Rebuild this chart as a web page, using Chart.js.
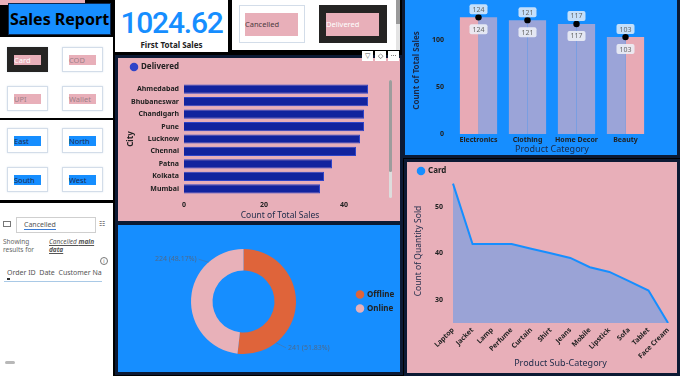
<!DOCTYPE html>
<html>
<head>
<meta charset="utf-8">
<script src="https://cdn.jsdelivr.net/npm/chart.js@4.4.1/dist/chart.umd.min.js"></script>
<style>
  html, body { margin: 0; padding: 0; background: #000; width: 680px; height: 376px; overflow: hidden; font-family: 'Noto Sans', 'Open Sans', sans-serif; }
  .box { position: absolute; box-sizing: border-box; }
  .white { background: #fff; }
  .pink { background: #e8afb9; }
  .blue { background: #168eff; }
  .panel { border: 3px solid #0c1a34; }
  .btn { position: absolute; box-sizing: border-box; width: 41px; height: 25px; background: #fff; border: 1px solid #d3dde9; box-shadow: 0 0 2px #dde6f0; }
  .btn.on { background: #252423; border-color: #252423; }
  .btn span { position: absolute; left: 6px; top: 7px; width: 27px; height: 10px; font-size: 7.5px; line-height: 10px; background: #e8afb9; color: #9c7f87; }
  .btn.on span { color: #fff; }
  .btn.reg span { background: #168eff; color: #1d2b4f; }
  .tiny { position: absolute; font-size: 6.5px; color: #666; line-height: 8px; }
  .ico { position: absolute; top: 51px; width: 11px; height: 10px; background: #fff; font-size: 7px; line-height: 10px; text-align: center; color: #555; }
  canvas { display: block; }
</style>
</head>
<body>

<!-- left column -->
<div class="box pink" style="left:0;top:0;width:85px;height:5px;"></div>
<div class="box blue" style="left:8px;top:3px;width:103px;height:32px;border:1px solid #0a2a55;font-weight:700;font-size:16px;line-height:30px;text-align:center;color:#000;">Sales Report</div>

<div class="box white" style="left:0;top:37px;width:113px;height:81px;"></div>
<div class="btn on" style="left:7px;top:47px;"><span>Card</span></div>
<div class="btn" style="left:62px;top:47px;"><span>COD</span></div>
<div class="btn" style="left:7px;top:86px;"><span>UPI</span></div>
<div class="btn" style="left:62px;top:86px;"><span>Wallet</span></div>

<div class="box white" style="left:0;top:120px;width:113px;height:80px;"></div>
<div class="btn reg" style="left:7px;top:128px;"><span>East</span></div>
<div class="btn reg" style="left:62px;top:128px;"><span>North</span></div>
<div class="btn reg" style="left:7px;top:167px;"><span>South</span></div>
<div class="btn reg" style="left:62px;top:167px;"><span>West</span></div>

<div class="box white" style="left:0;top:203px;width:113px;height:173px;"></div>
<div class="box" style="left:3px;top:221px;width:8px;height:6px;border:1px solid #777;"></div>
<div class="box" style="left:16px;top:217px;width:80px;height:16px;border:1px solid #cfcfcf;"></div>
<div class="tiny" style="left:24px;top:221px;font-size:7px;color:#555;border-bottom:1px solid #3a7bd5;line-height:8px;">Cancelled</div>
<div class="tiny" style="left:99px;top:220px;font-size:7px;color:#666;">&#x2637;</div>
<div class="tiny" style="left:3px;top:238px;">Showing<br>results for</div>
<div class="tiny" style="left:49px;top:238px;font-style:italic;text-decoration:underline;color:#555;">Cancelled <b>main</b><br><b>data</b></div>
<div class="box" style="left:100px;top:257px;width:8px;height:8px;border:1px solid #777;border-radius:50%;font-size:5px;line-height:6px;text-align:center;color:#555;">i</div>
<div class="tiny" style="left:7px;top:269px;font-size:7px;color:#555;">Order ID&nbsp; Date&nbsp; Customer Na</div>
<div class="box" style="left:4px;top:281px;width:98px;height:1px;background:#a9c9e6;"></div>
<div class="box" style="left:7px;top:278px;width:3px;height:2px;background:#333;"></div>
<div class="box" style="left:5px;top:361px;width:10px;height:3px;background:#b8b8b8;border-radius:2px;"></div>

<!-- KPI card -->
<div class="box white" style="left:115px;top:0;width:113px;height:52px;"></div>
<div class="box" style="left:115px;top:6px;width:113px;text-align:center;font-family:Roboto,sans-serif;font-weight:500;font-size:30px;letter-spacing:-1.2px;line-height:34px;color:#168eff;">1024.62</div>
<div class="box" style="left:115px;top:40px;width:113px;text-align:center;font-weight:700;font-size:8px;line-height:10px;color:#222;">First Total Sales</div>

<!-- status slicer -->
<div class="box white" style="left:232px;top:0;width:164px;height:50px;"></div>
<div class="box" style="left:239px;top:5px;width:66px;height:38px;border:1px solid #d3dde9;"></div>
<div class="box pink" style="left:245px;top:13px;width:53px;height:23px;font-size:7.5px;line-height:23px;color:#4d3a40;">Cancelled</div>
<div class="box" style="left:319px;top:5px;width:68px;height:38px;background:#252423;"></div>
<div class="box pink" style="left:326px;top:13px;width:53px;height:23px;font-size:7.5px;line-height:23px;color:#fff;">Delivered</div>
<div class="box" style="left:396px;top:0;width:4px;height:50px;background:#e4e4e4;"></div>
<div class="box" style="left:396px;top:0;width:4px;height:24px;background:#9a9a9a;"></div>

<!-- chart panels -->
<div class="box pink panel" style="left:115px;top:55px;width:288px;height:169px;">
  <div style="position:relative;width:282px;height:163px;"><canvas id="cityChart"></canvas></div>
  <div class="box" style="left:271px;top:22px;width:3px;height:118px;background:#ddd;border-radius:2px;"></div>
  <div class="box" style="left:271px;top:22px;width:3px;height:92px;background:#9d9d9d;border-radius:2px;"></div>
</div>
<div class="box blue panel" style="left:115px;top:222px;width:288px;height:153px;">
  <div style="position:relative;width:282px;height:147px;"><canvas id="channelChart"></canvas></div>
</div>
<div class="box blue panel" style="left:402px;top:-3px;width:278px;height:161px;">
  <div style="position:relative;width:272px;height:155px;"><canvas id="categoryChart"></canvas></div>
</div>
<div class="box pink panel" style="left:404px;top:159px;width:276px;height:217px;">
  <div style="position:relative;width:270px;height:211px;"><canvas id="subCatChart"></canvas></div>
</div>

<!-- visual header icons over the city chart -->
<div class="ico" style="left:362px;">&#x25BD;</div>
<div class="ico" style="left:375px;">&#x25C7;</div>
<div class="ico" style="left:388px;">&middot;&middot;&middot;</div>

<script>
// data
const cities = ['Ahmedabad', 'Bhubaneswar', 'Chandigarh', 'Pune', 'Lucknow', 'Chennai', 'Patna', 'Kolkata', 'Mumbai'];
const deliveredSales = [46, 46, 45, 45, 44, 43, 37, 35, 34];
const cityTicks = [0, 20, 40];

const categories = ['Electronics', 'Clothing', 'Home Decor', 'Beauty'];
const categorySales = [124, 121, 117, 103];
const categoryTicks = [0, 50, 100];

const subCategories = ['Laptop', 'Jacket', 'Lamp', 'Perfume', 'Curtain', 'Shirt', 'Jeans', 'Mobile', 'Lipstick', 'Sofa', 'Tablet', 'Face Cream'];
const cardQuantity = [55, 42, 42, 42, 41, 40, 39, 37, 36, 34, 32, 25];
const quantityTicks = [30, 40, 50];

const channels = ['Offline', 'Online'];
const channelCounts = [241, 224];

// shared look
Chart.defaults.font.family = "'Noto Sans', 'Open Sans', sans-serif";
Chart.defaults.animation = false;
Chart.defaults.plugins.tooltip.enabled = false;

const PINK = '#e8aab5';
const LAVENDER = '#9ba4d8';
const INK = '#222';
const NAVY = '#1c2a48';

const boldTick = () => ({ size: 7, weight: 'bold' });

// fixes the legend box size so the plot area lands where Power BI put it
const legendSize = {
  id: 'legendSize',
  afterInit(chart, args, opts) {
    if (!chart.legend) return;
    const fit = chart.legend.fit;
    chart.legend.fit = function () {
      fit.call(this);
      if (opts.height) this.height = opts.height;
      if (opts.width) this.width = opts.width;
    };
  }
};

function useTicks(values) {
  return scale => { scale.ticks = values.map(v => ({ value: v })); };
}

// legend dots filled with the line colour
function solidDots(chart) {
  return Chart.defaults.plugins.legend.labels.generateLabels(chart).map(l => {
    l.fillStyle = l.strokeStyle;
    l.lineWidth = 0;
    return l;
  });
}

// city bars
new Chart(document.getElementById('cityChart'), {
  type: 'bar',
  data: {
    labels: cities,
    datasets: [{
      label: 'Delivered',
      data: deliveredSales,
      backgroundColor: '#12239e',
      borderColor: '#2e44c8',
      borderWidth: 1,
      barPercentage: 0.74,
      categoryPercentage: 1
    }]
  },
  options: {
    indexAxis: 'y',
    responsive: true,
    maintainAspectRatio: false,
    layout: { padding: { left: 8, right: 24, top: 0, bottom: 0 } },
    plugins: {
      legend: {
        align: 'start',
        labels: { usePointStyle: true, pointStyle: 'circle', boxWidth: 6, boxHeight: 6, padding: 5, color: INK, font: { size: 8, weight: 'bold' }, generateLabels: solidDots }
      },
      legendSize: { height: 25 }
    },
    scales: {
      x: {
        min: 0, max: 48,
        afterBuildTicks: useTicks(cityTicks),
        afterFit: s => { s.height = 26; },
        grid: { display: false, drawTicks: false },
        border: { display: false },
        ticks: { color: INK, font: boldTick(), padding: 6, autoSkip: false },
        title: { display: true, text: 'Count of Total Sales', color: NAVY, font: { size: 8.5 }, padding: 0 }
      },
      y: {
        afterFit: s => { s.width = 58; },
        grid: { display: false, drawTicks: false },
        border: { display: false },
        ticks: { color: INK, font: boldTick(), padding: 5, autoSkip: false },
        title: { display: true, text: 'City', color: INK, font: { size: 8, weight: 'bold' }, padding: 0 }
      }
    }
  },
  plugins: [legendSize]
});

// category columns, with Power BI style value tags and the value-axis numbers
const valueTags = {
  id: 'valueTags',
  afterDatasetsDraw(chart) {
    const ctx = chart.ctx;
    const meta = chart.getDatasetMeta(2);
    ctx.save();
    ctx.font = '7px "Noto Sans", sans-serif';
    ctx.textAlign = 'center';
    ctx.textBaseline = 'middle';
    meta.data.forEach((pt, i) => {
      const txt = String(categorySales[i]);
      [[-8, 'rgba(205,228,250,0.95)'], [12, 'rgba(236,238,246,0.9)']].forEach(([dy, bg]) => {
        const y = pt.y + dy;
        ctx.fillStyle = bg;
        ctx.beginPath();
        ctx.roundRect(pt.x - 9, y - 5, 18, 10, 2);
        ctx.fill();
        ctx.fillStyle = '#666';
        ctx.fillText(txt, pt.x, y + 0.5);
      });
    });
    ctx.restore();
  },
  afterDraw(chart) {
    const ctx = chart.ctx;
    const s = chart.scales.y;
    ctx.save();
    ctx.font = 'bold 7px "Noto Sans", sans-serif';
    ctx.textAlign = 'right';
    ctx.textBaseline = 'middle';
    ctx.fillStyle = INK;
    categoryTicks.forEach(v => ctx.fillText(String(v), s.right - 10, s.getPixelForValue(v)));
    ctx.restore();
  }
};

new Chart(document.getElementById('categoryChart'), {
  data: {
    labels: categories,
    datasets: [
      { type: 'bar', data: categorySales, backgroundColor: [PINK, LAVENDER, LAVENDER, LAVENDER], barPercentage: 1, categoryPercentage: 0.76, order: 2 },
      { type: 'bar', data: categorySales, backgroundColor: [LAVENDER, LAVENDER, LAVENDER, PINK], barPercentage: 1, categoryPercentage: 0.76, order: 2 },
      { type: 'line', data: categorySales, showLine: false, pointRadius: 3.2, pointBackgroundColor: '#000', pointBorderWidth: 0, order: 0 }
    ]
  },
  options: {
    responsive: true,
    maintainAspectRatio: false,
    layout: { padding: { left: 7, right: 27, top: 7, bottom: 0 } },
    plugins: { legend: { display: false } },
    scales: {
      x: {
        afterFit: s => { s.height = 21; },
        grid: { display: false, drawTicks: false },
        border: { display: false },
        ticks: { color: INK, font: boldTick(), padding: 2, autoSkip: false },
        title: { display: true, text: 'Product Category', color: NAVY, font: { size: 9 }, padding: 0 }
      },
      y: {
        min: 0, max: 135,
        afterBuildTicks: useTicks(categoryTicks),
        afterFit: s => { s.width = 42; },
        grid: { display: false, drawTicks: false },
        border: { display: false },
        ticks: { display: false },
        title: { display: true, text: 'Count of Total Sales', color: NAVY, font: { size: 8, weight: 'bold' }, padding: 0 }
      }
    }
  },
  plugins: [valueTags]
});

// sub-category area
new Chart(document.getElementById('subCatChart'), {
  type: 'line',
  data: {
    labels: subCategories,
    datasets: [{
      label: 'Card',
      data: cardQuantity,
      borderColor: '#168eff',
      backgroundColor: '#9aa3d6',
      borderWidth: 2,
      fill: 'start',
      pointRadius: 0,
      tension: 0
    }]
  },
  options: {
    responsive: true,
    maintainAspectRatio: false,
    layout: { padding: { left: 6, right: 7, top: 0, bottom: 2 } },
    plugins: {
      legend: {
        align: 'start',
        labels: { usePointStyle: true, pointStyle: 'circle', boxWidth: 6, boxHeight: 6, padding: 5, color: INK, font: { size: 8, weight: 'bold' }, generateLabels: solidDots }
      },
      legendSize: { height: 17 }
    },
    scales: {
      x: {
        offset: false,
        afterFit: s => { s.height = 48; },
        grid: { display: false, drawTicks: false },
        border: { display: false },
        ticks: { color: INK, font: boldTick(), maxRotation: 45, minRotation: 45, padding: 3, autoSkip: false },
        title: { display: true, text: 'Product Sub-Category', color: NAVY, font: { size: 9 }, padding: { top: 0, bottom: 2 } }
      },
      y: {
        min: 25, max: 56,
        afterBuildTicks: useTicks(quantityTicks),
        afterFit: s => { s.width = 40; },
        grid: { display: false, drawTicks: false },
        border: { display: false },
        ticks: { color: INK, font: boldTick(), padding: 10, autoSkip: false },
        title: { display: true, text: 'Count of Quantity Sold', color: NAVY, font: { size: 8.5 }, padding: 0 }
      }
    }
  },
  plugins: [legendSize]
});

// channel doughnut with outside labels
const sliceLabels = {
  id: 'sliceLabels',
  afterDatasetsDraw(chart) {
    const ctx = chart.ctx;
    const total = channelCounts.reduce((a, b) => a + b, 0);
    ctx.save();
    ctx.font = '7px "Noto Sans", sans-serif';
    ctx.textBaseline = 'middle';
    chart.getDatasetMeta(0).data.forEach((arc, i) => {
      const a = arc.startAngle + 0.76 * (arc.endAngle - arc.startAngle);
      const x0 = arc.x + Math.cos(a) * arc.outerRadius;
      const y0 = arc.y + Math.sin(a) * arc.outerRadius;
      const right = Math.cos(a) > 0;
      const x1 = x0 + (right ? 10 : -10);
      const y1 = y0 + (right ? 5 : -3);
      ctx.strokeStyle = 'rgba(90,110,140,0.6)';
      ctx.lineWidth = 0.8;
      ctx.beginPath();
      ctx.moveTo(x0, y0);
      ctx.lineTo(x1, y1);
      ctx.stroke();
      const pct = (channelCounts[i] / total * 100).toFixed(2);
      ctx.fillStyle = '#4d6a8c';
      ctx.textAlign = right ? 'left' : 'right';
      ctx.fillText(channelCounts[i] + ' (' + pct + '%)', x1 + (right ? 2 : -2), y1);
    });
    ctx.restore();
  }
};

new Chart(document.getElementById('channelChart'), {
  type: 'doughnut',
  data: {
    labels: channels,
    datasets: [{ data: channelCounts, backgroundColor: ['#df643a', '#e8b1b9'], borderWidth: 0 }]
  },
  options: {
    responsive: true,
    maintainAspectRatio: false,
    cutout: '59%',
    layout: { padding: { left: 18, right: 2, top: 24, bottom: 18 } },
    plugins: {
      legend: {
        position: 'right',
        labels: { usePointStyle: true, pointStyle: 'circle', boxWidth: 6, boxHeight: 6, padding: 6, color: INK, font: { size: 8, weight: 'bold' } }
      },
      legendSize: { width: 47 }
    }
  },
  plugins: [legendSize, sliceLabels]
});
</script>
</body>
</html>
